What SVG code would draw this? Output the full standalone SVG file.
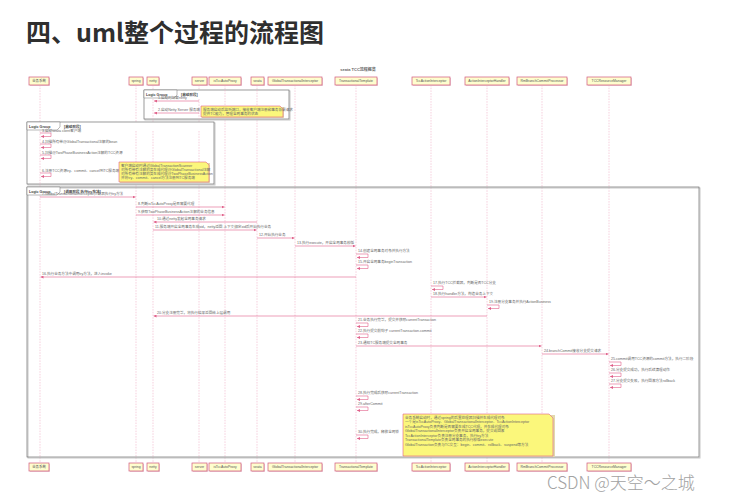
<svg xmlns="http://www.w3.org/2000/svg" width="730" height="497" viewBox="0 0 730 497">
<style>
.bg{fill:#ffffff}
.h1{font-family:"Noto Sans CJK SC","Liberation Sans",sans-serif;font-weight:700;font-size:25px;fill:#2f2f2f}
.t{font-family:"Liberation Sans","Noto Sans CJK SC",sans-serif;font-size:3.6px;fill:#666}
.pt{font-family:"Liberation Sans","Noto Sans CJK SC",sans-serif;font-size:3.4px;fill:#555;text-anchor:middle}
.p{fill:#FEFECE;stroke:#d2557c;stroke-width:0.7}
.ps{fill:#ecd2d8}
.ll{stroke:#f0aec6;stroke-width:0.6;stroke-dasharray:1.5 1.2}
.m{stroke:#e0608a;stroke-width:0.6;fill:none}
.fr{fill:none;stroke:#707070;stroke-width:0.7}
.frs{fill:none;stroke:#c8c8c8;stroke-width:1}
.tab{fill:#fff;stroke:#707070;stroke-width:0.5}
.ft{font-family:"Liberation Sans","Noto Sans CJK SC",sans-serif;font-size:3.6px;fill:#444;font-weight:700}
.n{fill:#FBF77B;stroke:#e0608a;stroke-width:0.6}
.ns{fill:#e2d9ad}
.wm{font-family:"Noto Sans CJK SC","Liberation Sans",sans-serif;font-size:17px;font-weight:300;fill:#a2a2a2}
</style>
<defs>
<marker id="ah" markerUnits="userSpaceOnUse" markerWidth="3" markerHeight="3" refX="3" refY="1.5" orient="auto">
<path d="M0,0 L3,1.5 L0,3 z" fill="#e0608a"/>
</marker>
</defs>
<rect class="bg" x="0" y="0" width="730" height="497"/>
<text class="h1" x="26" y="42">四、uml整个过程的流程图</text>
<text class="t" x="358" y="71" text-anchor="middle" style="font-weight:700;font-size:4px">seata TCC流程概览</text>

<g id="lifelines">
<line class="ll" x1="40" y1="85" x2="40" y2="463"/>
<line class="ll" x1="136" y1="85" x2="136" y2="463"/>
<line class="ll" x1="153" y1="85" x2="153" y2="463"/>
<line class="ll" x1="199" y1="85" x2="199" y2="463"/>
<line class="ll" x1="225" y1="85" x2="225" y2="463"/>
<line class="ll" x1="257" y1="85" x2="257" y2="463"/>
<line class="ll" x1="295" y1="85" x2="295" y2="463"/>
<line class="ll" x1="356" y1="85" x2="356" y2="463"/>
<line class="ll" x1="431" y1="85" x2="431" y2="463"/>
<line class="ll" x1="487" y1="85" x2="487" y2="463"/>
<line class="ll" x1="542" y1="85" x2="542" y2="463"/>
<line class="ll" x1="609" y1="85" x2="609" y2="463"/>
</g>

<g id="participants-top">
<g id="p-app"><rect class="ps" x="30" y="78" width="20" height="8"/><rect class="p" x="29" y="77" width="20" height="8"/><text class="pt" x="39" y="82.3">业务系统</text></g>
<g id="p-spring"><rect class="ps" x="130" y="78" width="14" height="8"/><rect class="p" x="129" y="77" width="14" height="8"/><text class="pt" x="136" y="82.3">spring</text></g>
<g id="p-netty"><rect class="ps" x="148" y="78" width="12" height="8"/><rect class="p" x="147" y="77" width="12" height="8"/><text class="pt" x="153" y="82.3">netty</text></g>
<g id="p-server"><rect class="ps" x="193" y="78" width="15" height="8"/><rect class="p" x="192" y="77" width="15" height="8"/><text class="pt" x="199.5" y="82.3">server</text></g>
<g id="p-istcc"><rect class="ps" x="210" y="78" width="32" height="8"/><rect class="p" x="209" y="77" width="32" height="8"/><text class="pt" x="225" y="82.3">isTccAutoProxy</text></g>
<g id="p-seata"><rect class="ps" x="252" y="78" width="13" height="8"/><rect class="p" x="251" y="77" width="13" height="8"/><text class="pt" x="257.5" y="82.3">seata</text></g>
<g id="p-gti"><rect class="ps" x="269" y="78" width="54" height="8"/><rect class="p" x="268" y="77" width="54" height="8"/><text class="pt" x="295" y="82.3">GlobalTransactionalInterceptor</text></g>
<g id="p-tt"><rect class="ps" x="336" y="78" width="42" height="8"/><rect class="p" x="335" y="77" width="42" height="8"/><text class="pt" x="356" y="82.3">TransactionalTemplate</text></g>
<g id="p-tai"><rect class="ps" x="413" y="78" width="38" height="8"/><rect class="p" x="412" y="77" width="38" height="8"/><text class="pt" x="431" y="82.3">TccActionInterceptor</text></g>
<g id="p-aih"><rect class="ps" x="466" y="78" width="44" height="8"/><rect class="p" x="465" y="77" width="44" height="8"/><text class="pt" x="487" y="82.3">ActionInterceptorHandler</text></g>
<g id="p-rbcp"><rect class="ps" x="518" y="78" width="50" height="8"/><rect class="p" x="517" y="77" width="50" height="8"/><text class="pt" x="542" y="82.3">RmBranchCommitProcessor</text></g>
<g id="p-tccrm"><rect class="ps" x="588" y="78" width="44" height="8"/><rect class="p" x="587" y="77" width="44" height="8"/><text class="pt" x="609" y="82.3">TCCResourceManager</text></g>
</g>

<g id="participants-bottom">
<g id="pb-app"><rect class="ps" x="30" y="464" width="20" height="8"/><rect class="p" x="29" y="463" width="20" height="8"/><text class="pt" x="39" y="468.3">业务系统</text></g>
<g id="pb-spring"><rect class="ps" x="130" y="464" width="14" height="8"/><rect class="p" x="129" y="463" width="14" height="8"/><text class="pt" x="136" y="468.3">spring</text></g>
<g id="pb-netty"><rect class="ps" x="148" y="464" width="12" height="8"/><rect class="p" x="147" y="463" width="12" height="8"/><text class="pt" x="153" y="468.3">netty</text></g>
<g id="pb-server"><rect class="ps" x="193" y="464" width="15" height="8"/><rect class="p" x="192" y="463" width="15" height="8"/><text class="pt" x="199.5" y="468.3">server</text></g>
<g id="pb-istcc"><rect class="ps" x="210" y="464" width="32" height="8"/><rect class="p" x="209" y="463" width="32" height="8"/><text class="pt" x="225" y="468.3">isTccAutoProxy</text></g>
<g id="pb-seata"><rect class="ps" x="252" y="464" width="13" height="8"/><rect class="p" x="251" y="463" width="13" height="8"/><text class="pt" x="257.5" y="468.3">seata</text></g>
<g id="pb-gti"><rect class="ps" x="269" y="464" width="54" height="8"/><rect class="p" x="268" y="463" width="54" height="8"/><text class="pt" x="295" y="468.3">GlobalTransactionalInterceptor</text></g>
<g id="pb-tt"><rect class="ps" x="336" y="464" width="42" height="8"/><rect class="p" x="335" y="463" width="42" height="8"/><text class="pt" x="356" y="468.3">TransactionalTemplate</text></g>
<g id="pb-tai"><rect class="ps" x="413" y="464" width="38" height="8"/><rect class="p" x="412" y="463" width="38" height="8"/><text class="pt" x="431" y="468.3">TccActionInterceptor</text></g>
<g id="pb-aih"><rect class="ps" x="466" y="464" width="44" height="8"/><rect class="p" x="465" y="463" width="44" height="8"/><text class="pt" x="487" y="468.3">ActionInterceptorHandler</text></g>
<g id="pb-rbcp"><rect class="ps" x="518" y="464" width="50" height="8"/><rect class="p" x="517" y="463" width="50" height="8"/><text class="pt" x="542" y="468.3">RmBranchCommitProcessor</text></g>
<g id="pb-tccrm"><rect class="ps" x="588" y="464" width="44" height="8"/><rect class="p" x="587" y="463" width="44" height="8"/><text class="pt" x="609" y="468.3">TCCResourceManager</text></g>
</g>

<g id="groups">
<g id="group1">
<rect class="frs" x="145" y="91" width="145" height="29"/>
<rect class="fr" x="144" y="90" width="145" height="29" style="fill:#fff"/>
<path class="tab" d="M144,90 H177 V95 L174,98 H144 Z"/>
<text class="ft" x="146" y="95.8">Logic Group</text>
<text class="ft" x="181" y="95.8">[启动阶段]</text>
</g>
<g id="group2">
<rect class="frs" x="28" y="123" width="187" height="62"/>
<rect class="fr" x="27" y="122" width="187" height="62" style="fill:#fff"/>
<path class="tab" d="M27,122 H60 V127 L57,130 H27 Z"/>
<text class="ft" x="29" y="127.8">Logic Group</text>
<text class="ft" x="64" y="127.8">[启动阶段]</text>
</g>
<g id="group3">
<rect class="frs" x="28" y="188" width="672" height="270"/>
<rect class="fr" x="27" y="187" width="672" height="270"/>
<path class="tab" d="M27,187 H60 V192 L57,195 H27 Z"/>
<text class="ft" x="29" y="192.8">Logic Group</text>
<text class="ft" x="64" y="192.8">[调用阶段 执行try方法]</text>
</g>
</g>

<g id="lifelines-over">
<line class="ll" x1="153" y1="99" x2="153" y2="119"/>
<line class="ll" x1="199" y1="99" x2="199" y2="119"/>
<line class="ll" x1="225" y1="90" x2="225" y2="106"/>
<line class="ll" x1="257" y1="90" x2="257" y2="106"/>
<line class="ll" x1="40" y1="131" x2="40" y2="184"/>
<line class="ll" x1="136" y1="131" x2="136" y2="162"/>
<line class="ll" x1="153" y1="131" x2="153" y2="162"/>
<line class="ll" x1="199" y1="131" x2="199" y2="162"/>
</g>

<g id="connectors">
<line class="m" x1="199" y1="101" x2="154" y2="101" marker-end="url(#ah)"/>
<text class="t" x="158" y="99.3">1.启动时加载netty</text>
<line class="m" x1="199" y1="113" x2="154" y2="113" marker-end="url(#ah)"/>
<text class="t" x="158" y="111.3">2.启动Netty Server 服务端</text>

<polyline class="m" points="40,133 51,133 51,136.5 41,136.5" marker-end="url(#ah)"/>
<text class="t" x="42" y="131.5">3.启动seata client客户端</text>
<polyline class="m" points="40,144 51,144 51,147.5 41,147.5" marker-end="url(#ah)"/>
<text class="t" x="42" y="142.5">4.扫描所有带@GlobalTransactional注解的bean</text>
<polyline class="m" points="40,155 51,155 51,158.5 41,158.5" marker-end="url(#ah)"/>
<text class="t" x="42" y="153.5">5.扫描@TwoPhaseBusinessAction注解的TCC资源</text>
<polyline class="m" points="40,173 51,173 51,176.5 41,176.5" marker-end="url(#ah)"/>
<text class="t" x="42" y="171.5">6.注册TCC资源try、commit、cancel到TC服务端</text>

<line class="m" x1="40" y1="197" x2="135.5" y2="197" marker-end="url(#ah)"/>
<text class="t" x="42" y="195.3">7.GlobalTransactionalInterceptor拦截器执行try方法</text>
<line class="m" x1="136" y1="207" x2="224.5" y2="207" marker-end="url(#ah)"/>
<text class="t" x="138" y="205.3">8.判断isTccAutoProxy是否需要代理</text>
<line class="m" x1="136" y1="215" x2="224.5" y2="215" marker-end="url(#ah)"/>
<text class="t" x="138" y="213.3">9.获取TwoPhaseBusinessAction注解的业务信息</text>
<line class="m" x1="257" y1="222" x2="153.5" y2="222" marker-end="url(#ah)"/>
<text class="t" x="157" y="220.3">10.通过netty发起全局事务请求</text>
<line class="m" x1="153" y1="230" x2="256.5" y2="230" marker-end="url(#ah)"/>
<text class="t" x="155" y="228.3">11.服务端开启全局事务生成xid，netty返回 上下文绑定xid后开始执行业务</text>
<line class="m" x1="257" y1="238" x2="294.5" y2="238" marker-end="url(#ah)"/>
<text class="t" x="259" y="236.3">12.开始执行业务</text>
<line class="m" x1="295" y1="246" x2="355.5" y2="246" marker-end="url(#ah)"/>
<text class="t" x="297" y="244.3">13.执行execute，开启全局事务模版</text>
<polyline class="m" points="356,254 368,254 368,257.5 357,257.5" marker-end="url(#ah)"/>
<text class="t" x="358" y="252.3">14.创建全局事务对象并执行方法</text>
<polyline class="m" points="356,265 368,265 368,268.5 357,268.5" marker-end="url(#ah)"/>
<text class="t" x="358" y="263.3">15.开启全局事务beginTransaction</text>
<line class="m" x1="356" y1="277" x2="40.5" y2="277" marker-end="url(#ah)"/>
<text class="t" x="42" y="275.3">16.执行业务方法中调用try方法，进入invoke</text>
<polyline class="m" points="431,286 443,286 443,289.5 432,289.5" marker-end="url(#ah)"/>
<text class="t" x="433" y="284.3">17.执行TCC拦截器，判断是否TCC分支</text>
<line class="m" x1="431" y1="297" x2="486.5" y2="297" marker-end="url(#ah)"/>
<text class="t" x="433" y="295.3">18.执行handler方法，构造业务上下文</text>
<polyline class="m" points="487,305 499,305 499,308.5 488,308.5" marker-end="url(#ah)"/>
<text class="t" x="489" y="303.3">19.注册分支事务并执行ActionBusiness</text>
<line class="m" x1="487" y1="316" x2="153.5" y2="316" marker-end="url(#ah)"/>
<text class="t" x="157" y="314.3">20.分支注册完毕，将执行结果返回给上层调用</text>
<polyline class="m" points="356,323 368,323 368,326.5 357,326.5" marker-end="url(#ah)"/>
<text class="t" x="358" y="321.3">21.业务执行完毕，提交并移除currentTransaction</text>
<polyline class="m" points="356,334 368,334 368,337.5 357,337.5" marker-end="url(#ah)"/>
<text class="t" x="358" y="332.3">22.执行提交前钩子 currentTransaction.commit</text>
<line class="m" x1="356" y1="346" x2="541.5" y2="346" marker-end="url(#ah)"/>
<text class="t" x="358" y="344.3">23.通知TC服务端提交全局事务</text>
<line class="m" x1="542" y1="354" x2="608.5" y2="354" marker-end="url(#ah)"/>
<text class="t" x="544" y="352.3">24.branchCommit接收分支提交请求</text>
<polyline class="m" points="609,362 621,362 621,365.5 610,365.5" marker-end="url(#ah)"/>
<text class="t" x="611" y="360.3">25.commit调用TCC资源的commit方法，执行二阶段</text>
<polyline class="m" points="609,373 621,373 621,376.5 610,376.5" marker-end="url(#ah)"/>
<text class="t" x="611" y="371.3">26.分支提交成功，执行后续清理动作</text>
<polyline class="m" points="609,384 621,384 621,387.5 610,387.5" marker-end="url(#ah)"/>
<text class="t" x="611" y="382.3">27.分支提交失败，执行回滚方法rollback</text>
<polyline class="m" points="356,396 368,396 368,399.5 357,399.5" marker-end="url(#ah)"/>
<text class="t" x="358" y="394.3">28.执行完成后移除currentTransaction</text>
<polyline class="m" points="356,407 368,407 368,410.5 357,410.5" marker-end="url(#ah)"/>
<text class="t" x="358" y="405.3">29.afterCommit</text>
<polyline class="m" points="356,435 368,435 368,438.5 357,438.5" marker-end="url(#ah)"/>
<text class="t" x="358" y="433.3">30.执行完成，释放全局锁</text>
</g>

<g id="note1">
<rect class="ns" x="202" y="107" width="82" height="11"/>
<path class="n" d="M201,106 H280 L283,109 V117 H201 Z"/>
<text class="t" x="203" y="110.5">服务端启动后监听端口，接收客户端注册和事务协调请求</text>
<text class="t" x="203" y="114.8">提供TC能力，管理全局事务的状态</text>
</g>
<g id="note2">
<rect class="ns" x="120" y="163" width="90" height="20"/>
<path class="n" d="M119,162 H206 L209,165 V182 H119 Z"/>
<text class="t" x="121" y="166.8">客户端启动时通过GlobalTransactionScanner</text>
<text class="t" x="121" y="170.8">对所有带有注解的类生成代理@GlobalTransactional注解</text>
<text class="t" x="121" y="174.8">对所有带有注解的类生成代理@TwoPhaseBusinessAction</text>
<text class="t" x="121" y="178.8">并将try、commit、cancel方法注册到TC服务端</text>
</g>
<g id="note3">
<rect class="ns" x="404" y="415" width="151" height="42"/>
<path class="n" d="M403,414 H549 L553,418 V456 H403 Z"/>
<text class="t" x="405" y="418.8">业务系统启动时，通过spring的后置处理器扫描并生成代理对象</text>
<text class="t" x="405" y="423.3">一个是isTccAutoProxy、GlobalTransactionalInterceptor、TccActionInterceptor</text>
<text class="t" x="405" y="427.8">isTccAutoProxy负责判断是否需要生成TCC代理，并生成代理对象</text>
<text class="t" x="405" y="432.3">GlobalTransactionalInterceptor负责开启全局事务，提交或回滚</text>
<text class="t" x="405" y="436.8">TccActionInterceptor负责注册分支事务，执行try方法</text>
<text class="t" x="405" y="441.3">TransactionalTemplate负责全局事务的执行模版execute</text>
<text class="t" x="405" y="445.8">GlobalTransaction负责与TC交互：begin、commit、rollback、suspend等方法</text>
</g>

<text class="wm" x="547" y="489">CSDN @天空～之城</text>
</svg>
